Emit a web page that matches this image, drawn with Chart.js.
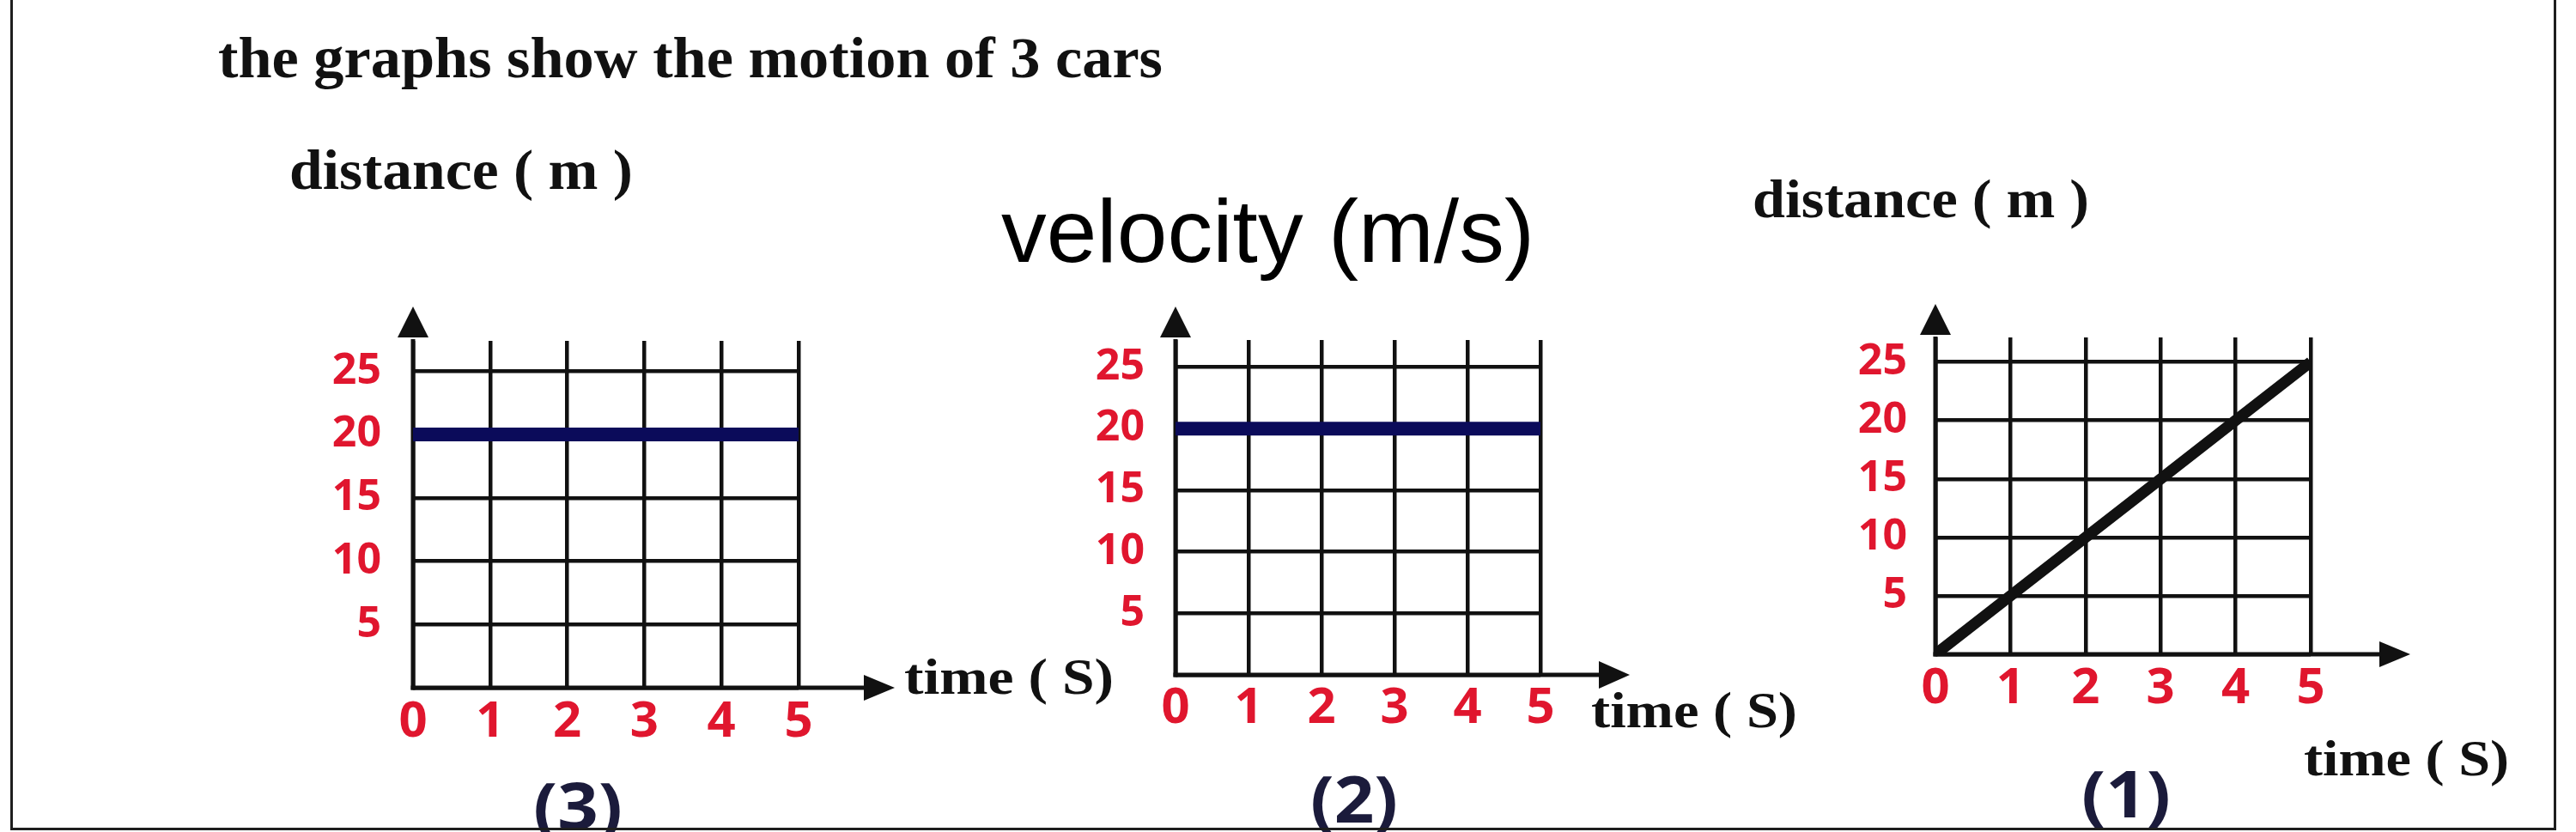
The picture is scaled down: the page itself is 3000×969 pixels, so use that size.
<!DOCTYPE html>
<html>
<head>
<meta charset="utf-8">
<script src="https://cdn.jsdelivr.net/npm/chart.js@4.4.1/dist/chart.umd.min.js"></script>
<style>
html, body { margin: 0; padding: 0; background: #ffffff; }
body { width: 3000px; height: 969px; position: relative; overflow: hidden; }
canvas { position: absolute; }
#labels { position: absolute; left: 0; top: 0; }
#frame { position: absolute; left: 12px; top: 0; width: 2959px; height: 964px;
         border-left: 3px solid #1e1e1e; border-right: 3px solid #1e1e1e; border-bottom: 3px solid #1e1e1e; }
</style>
</head>
<body>
<canvas id="chart3"></canvas>
<canvas id="chart2"></canvas>
<canvas id="chart1"></canvas>
<svg id="labels" width="3000" height="969" xmlns="http://www.w3.org/2000/svg">
  <g font-family="'Liberation Serif', 'Times New Roman', serif" font-weight="bold" fill="#111">
    <text x="254" y="90" font-size="68" textLength="1100" lengthAdjust="spacingAndGlyphs">the graphs show the motion of 3 cars</text>
    <text x="337" y="220" font-size="66" textLength="400" lengthAdjust="spacingAndGlyphs">distance ( m )</text>
    <text x="2041" y="253" font-size="64" textLength="392" lengthAdjust="spacingAndGlyphs">distance ( m )</text>
    <text x="1053" y="808" font-size="60" textLength="244" lengthAdjust="spacingAndGlyphs">time ( S)</text>
    <text x="1853" y="847" font-size="60" textLength="240" lengthAdjust="spacingAndGlyphs">time ( S)</text>
    <text x="2683" y="903" font-size="60" textLength="239" lengthAdjust="spacingAndGlyphs">time ( S)</text>
  </g>
  <text x="1166" y="305" font-family="'Liberation Sans', Arial, sans-serif" font-size="103" fill="#000" textLength="621" lengthAdjust="spacingAndGlyphs">velocity (m/s)</text>
  <g font-family="'Open Sans', sans-serif" font-weight="bold" font-size="76" fill="#1b1b3b" text-anchor="middle">
    <text x="673" y="966" textLength="104" lengthAdjust="spacingAndGlyphs">(3)</text>
    <text x="1577" y="958" textLength="102" lengthAdjust="spacingAndGlyphs">(2)</text>
    <text x="2476" y="952" textLength="104" lengthAdjust="spacingAndGlyphs">(1)</text>
  </g>
</svg>
<div id="frame"></div>
<script>
// ---- data ----
const times = [0, 1, 2, 3, 4, 5];
const xTickLabels = ['0', '1', '2', '3', '4', '5'];
const yTickValues = [0, 5, 10, 15, 20, 25];
const yTickLabels = ['', '5', '10', '15', '20', '25'];
const car3Distance = [20, 20, 20, 20, 20, 20];
const car2Velocity = [20, 20, 20, 20, 20, 20];
const car1Distance = [0, 5, 10, 15, 20, 25];

// ---- styles ----
const RED = '#e0162e';
const NAVY = '#0b0b5a';
const INK = '#111111';

const axisArrows = {
  id: 'axisArrows',
  beforeDatasetsDraw(chart, args, o) {
    const { ctx, chartArea: a } = chart;
    ctx.save();
    ctx.strokeStyle = INK; ctx.fillStyle = INK; ctx.lineWidth = o.lw; ctx.lineCap = 'butt';
    const yTip = a.top - o.up, yBase = yTip + o.headLen;
    ctx.beginPath(); ctx.moveTo(a.left, a.bottom + o.lw / 2); ctx.lineTo(a.left, yBase + 2); ctx.stroke();
    ctx.beginPath(); ctx.moveTo(a.left, yTip); ctx.lineTo(a.left - o.headHalf, yBase); ctx.lineTo(a.left + o.headHalf, yBase); ctx.closePath(); ctx.fill();
    const xTip = a.right + o.right, xBase = xTip - o.headLen;
    ctx.beginPath(); ctx.moveTo(a.left - o.lw / 2, a.bottom); ctx.lineTo(xBase + 2, a.bottom); ctx.stroke();
    ctx.beginPath(); ctx.moveTo(xTip, a.bottom); ctx.lineTo(xBase, a.bottom - o.headHalfX); ctx.lineTo(xBase, a.bottom + o.headHalfX); ctx.closePath(); ctx.fill();
    ctx.restore();
  }
};

function makeChart(id, box, area, ymax, series, color, width, pad, arrow) {
  const cv = document.getElementById(id);
  cv.width = box.w; cv.height = box.h;
  cv.style.left = box.x + 'px'; cv.style.top = box.y + 'px';
  cv.style.width = box.w + 'px'; cv.style.height = box.h + 'px';
  const YW = 100, XH = 60;
  return new Chart(cv, {
    type: 'line',
    data: {
      datasets: [{
        data: times.map((t, i) => ({ x: t, y: series[i] })),
        borderColor: color, borderWidth: width, pointRadius: 0,
        borderCapStyle: 'butt', tension: 0, fill: false
      }]
    },
    options: {
      responsive: false, animation: false, events: [], devicePixelRatio: 1,
      layout: { padding: {
        left: area.left - box.x - YW,
        right: box.x + box.w - area.right,
        top: area.top - box.y,
        bottom: box.y + box.h - area.bottom - XH
      } },
      plugins: { legend: { display: false }, tooltip: { enabled: false }, axisArrows: arrow },
      scales: {
        x: {
          type: 'linear', min: 0, max: 5,
          afterFit(s) { s.height = XH; },
          afterBuildTicks(s) { s.ticks = times.map(v => ({ value: v })); },
          grid: { color: INK, lineWidth: 4.5, drawTicks: false },
          border: { display: false },
          ticks: { callback: (v, i) => xTickLabels[i], color: RED, padding: pad.x,
                   font: { family: 'Open Sans', weight: 'bold', size: 58 }, maxRotation: 0, autoSkip: false }
        },
        y: {
          type: 'linear', min: 0, max: ymax,
          afterFit(s) { s.width = YW; },
          afterBuildTicks(s) { s.ticks = yTickValues.map(v => ({ value: v })); },
          grid: { color: INK, lineWidth: 4.5, drawTicks: false },
          border: { display: false },
          ticks: { callback: (v, i) => yTickLabels[i], color: RED, padding: pad.y,
                   font: { family: 'Open Sans', weight: 'bold', size: 50 }, autoSkip: false }
        }
      }
    },
    plugins: [axisArrows]
  });
}

makeChart('chart3', { x: 300, y: 330, w: 760, h: 560 },
  { left: 481, right: 930, top: 387, bottom: 801 }, 27.4, car3Distance, NAVY, 16,
  { x: 6, y: 37 }, { lw: 5, up: 40, headLen: 36, headHalf: 18, right: 112, headHalfX: 15 });

makeChart('chart2', { x: 1200, y: 330, w: 720, h: 550 },
  { left: 1369, right: 1794, top: 385, bottom: 786 }, 27.2, car2Velocity, NAVY, 16,
  { x: 5, y: 36 }, { lw: 5, up: 39, headLen: 36, headHalf: 18, right: 104, headHalfX: 16 });

makeChart('chart1', { x: 2080, y: 330, w: 750, h: 530 },
  { left: 2254, right: 2691, top: 391, bottom: 762 }, 27.1, car1Distance, INK, 13,
  { x: 6, y: 33 }, { lw: 5, up: 39, headLen: 36, headHalf: 18, right: 116, headHalfX: 15 });
</script>
</body>
</html>
